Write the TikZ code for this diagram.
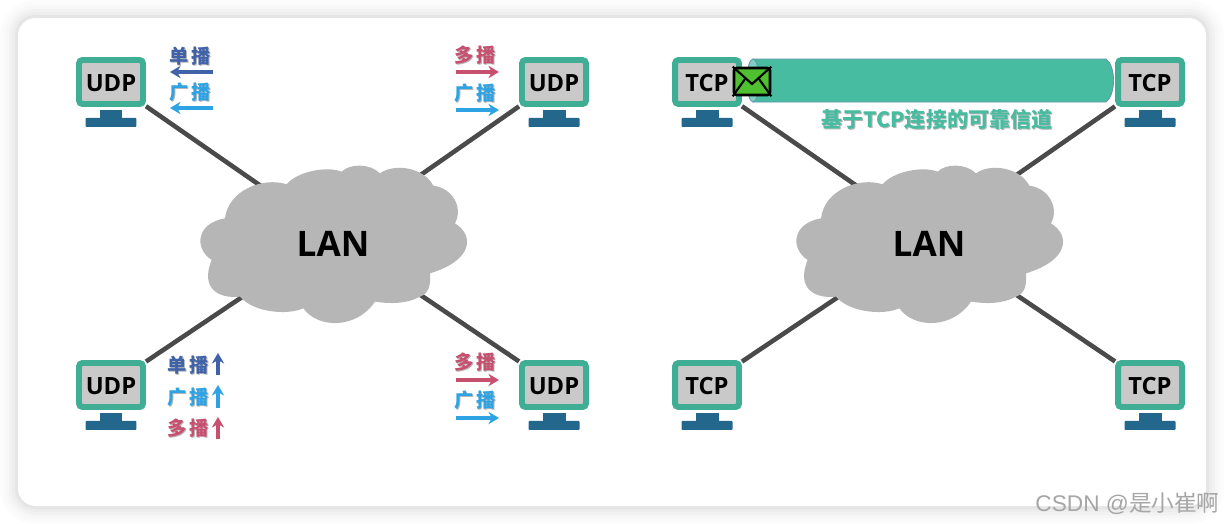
\documentclass[tikz,border=0pt]{standalone}
\usepackage{xcolor}
\usepackage{fontspec}
\setmainfont{Open Sans}
\newfontfamily\cjk[LetterSpace=16]{Noto Sans CJK SC}
\newfontfamily\cjkplain{Noto Sans CJK SC}
\newfontfamily\markfont{Liberation Sans}
\usetikzlibrary{arrows.meta, positioning}
\definecolor{hostgreen}{HTML}{3FAE94}
\definecolor{screengray}{HTML}{C9C9C9}
\definecolor{standblue}{HTML}{23688C}
\definecolor{linkgray}{HTML}{4A4A4A}
\definecolor{cloudgray}{HTML}{B6B6B6}
\definecolor{uniblue}{HTML}{3F62A8}
\definecolor{broadblue}{HTML}{2EA3E4}
\definecolor{multired}{HTML}{C8506F}
\definecolor{tubegreen}{HTML}{48BCA0}
\definecolor{tubeend}{HTML}{7FD0C0}
\definecolor{mailgreen}{HTML}{4FC030}
\newcommand{\halotext}[2]{\rlap{\raisebox{-0.7pt}{\hspace{0.5pt}\textcolor{black!28}{#2}}}\textcolor{#1}{#2}}
\tikzset{
    hostbox/.style={rectangle, rounded corners=2pt, minimum width=1.28cm, minimum height=0.88cm, inner sep=0pt, text height=11pt, text depth=0pt, draw=hostgreen, line width=3.4pt, fill=screengray, font=\bfseries\fontsize{13.5}{14}\selectfont},
    standneck/.style={rectangle, minimum width=0.46cm, minimum height=0.16cm, inner sep=0pt, outer sep=0pt, fill=standblue},
    standbase/.style={rectangle, rounded corners=0.5pt, minimum width=1.02cm, minimum height=0.18cm, inner sep=0pt, outer sep=0pt, fill=standblue},
    link/.style={draw=linkgray, line width=2.6pt},
    lantext/.style={font=\bfseries\fontsize{20}{22}\selectfont},
    castlabel/.style={inner sep=0pt, font=\cjk\bfseries\fontsize{11}{12}\selectfont},
    arrow/.style={line width=2pt,-{Stealth[length=6pt,width=7pt]}},
    mailbox/.style={rectangle, rounded corners=1.5pt, minimum width=0.72cm, minimum height=0.54cm, inner sep=0pt, draw=black, line width=1.5pt, fill=mailgreen}
}
\begin{document}
\begin{tikzpicture}[x=0.02cm, y=-0.02cm]
    \useasboundingbox (0,0) rectangle (1224,524);
    % Card and its soft edge
    \fill[white] (0,0) rectangle (1224,524);
    \foreach \d/\g in {18/1, 15/2, 12/3, 9/5, 6/7, 3/10}{
        \pgfmathsetmacro\rad{10+\d*0.567}
        \fill[black!\g, rounded corners=\rad pt] ({18-\d},{18-\d}) rectangle ({1206+\d},{506+\d});
    }
    \fill[white, rounded corners=10pt] (18,18) rectangle (1206,506);

    % Hosts
    \foreach \name/\hx/\hy/\txt in {u1/111/82/UDP, u2/554/82/UDP, u3/111/385/UDP, u4/554/385/UDP, t1/707/82/TCP, t2/1150/82/TCP, t3/707/385/TCP, t4/1150/385/TCP}{
        \node (\name) [hostbox] at (\hx,\hy) {\txt};
        \node (\name n) [standneck, below=0.06cm of \name] {};
        \node (\name b) [standbase, below=0cm of \name n] {};
    }

    % Links
    \coordinate (lanl) at (333,236);
    \coordinate (lanr) at (929,236);
    \foreach \name in {u1,u2,u3,u4}{
        \draw [link] (\name) -- (lanl);
    }
    \foreach \name in {t1,t2,t3,t4}{
        \draw [link] (\name) -- (lanr);
    }

    % Clouds
    \foreach \ox in {190,786}{
        \begin{scope}[shift={(\ox,155)}, scale=0.3333]
            \fill[cloudgray] (105,190) .. controls (115,105) and (220,65) .. (290,88)
                .. controls (320,50) and (410,32) .. (455,50)
                .. controls (480,25) and (540,25) .. (570,55)
                .. controls (610,25) and (700,35) .. (730,92)
                .. controls (790,100) and (820,160) .. (795,205)
                .. controls (852,240) and (852,315) .. (720,355)
                .. controls (722,390) and (718,415) .. (690,425)
                .. controls (650,447) and (600,447) .. (555,440)
                .. controls (500,522) and (385,522) .. (340,460)
                .. controls (290,482) and (190,472) .. (150,425)
                .. controls (85,432) and (30,400) .. (65,315)
                .. controls (12,280) and (18,205) .. (105,190) -- cycle;
        \end{scope}
    }
    \node (lan1) [lantext] at (333,244) {LAN};
    \node (lan2) [lantext] at (929,244) {LAN};

    % Cast labels
    \foreach \name/\lx/\ly/\col/\txt in {l1/190/57/uniblue/单播, l2/190/93/broadblue/广播, l3/475/56/multired/多播, l4/475/94/broadblue/广播, l5/475/363/multired/多播, l6/475/401/broadblue/广播, l7/188/366/uniblue/单播, l8/188/398/broadblue/广播, l9/188/429/multired/多播}{
        \node (\name) [castlabel] at (\lx,\ly) {\halotext{\col}{\txt}};
    }

    % Cast arrows
    \foreach \id/\sx/\sy/\ex/\ey/\col in {a/213/72/170/72/uniblue, b/213/108/170/108/broadblue, c/456/72/499/72/multired, d/456/110/499/110/broadblue, e/456/380/499/380/multired, f/456/418/499/418/broadblue, g/218/375/218/353/uniblue, h/218/408/218/385/broadblue, i/218/439/218/417/multired}{
        \coordinate (\id s) at (\sx,\sy);
        \coordinate (\id e) at (\ex,\ey);
        \draw [arrow, draw=\col, fill=\col] (\id s) -- (\id e);
    }

    % Channel
    \filldraw[fill=tubegreen, draw=standblue!70, line width=0.5pt] (753,59) -- (1106,59) .. controls (1116,66) and (1116,95) .. (1106,102) -- (753,102) -- cycle;
    \filldraw[fill=tubeend, draw=standblue!70, line width=0.5pt] (753,80.5) ellipse (6 and 21.5);
    \node (chantext) [inner sep=0pt, font=\cjkplain\bfseries\fontsize{12}{14}\selectfont] at (937,120) {\halotext{tubegreen}{基于TCP连接的可靠信道}};

    % Mail
    \node (mail) [mailbox] at (752,81.5) {};
    \coordinate (mailv) at (752,84);
    \draw [line width=1.2pt] (mail.north west) -- (mailv) -- (mail.north east);
    \draw [line width=1.2pt] (mail.south west) -- ([shift={(-7,-5)}]mailv);
    \draw [line width=1.2pt] (mail.south east) -- ([shift={(7,-5)}]mailv);

    % Watermark
    \node (mark) [inner sep=0pt, anchor=east, text=black!35, font=\fontsize{12.9}{15}\selectfont] at (1220,504) {\markfont CSDN @{\cjkplain 是小崔啊}};
\end{tikzpicture}
\end{document}
